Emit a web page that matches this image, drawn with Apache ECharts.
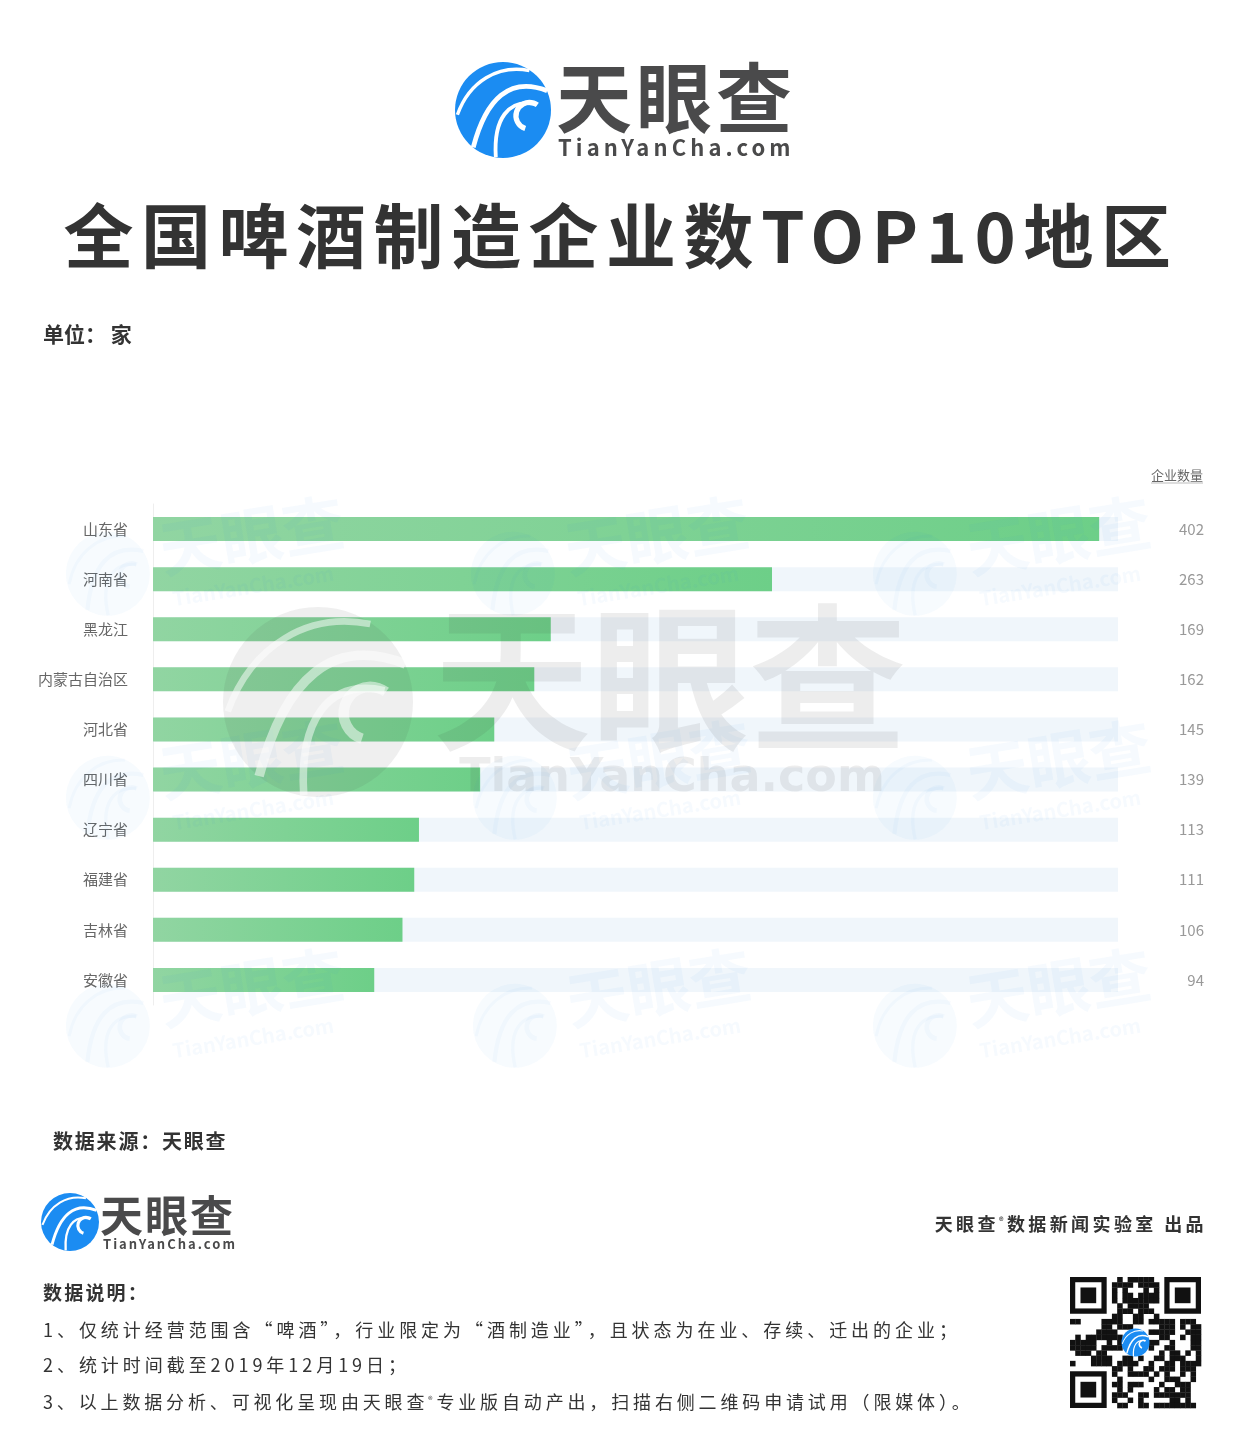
<!DOCTYPE html>
<html>
<head>
<meta charset="utf-8">
<script src="https://cdn.jsdelivr.net/npm/echarts@6/dist/echarts.min.js"></script>
<style>
  html, body { margin:0; padding:0; background:#fff; }
  body { width:1242px; height:1444px; position:relative; overflow:hidden;
         font-family:"Noto Sans CJK SC","Noto Sans",sans-serif; }
  #main { position:absolute; left:0; top:0; width:1242px; height:1444px; }
  .t { position:absolute; white-space:nowrap; color:#333; }
</style>
</head>
<body>
<div id="main"></div>
<div class="t" style="left:556px;top:51px;font-size:76px;line-height:86px;font-weight:700;color:#4a4a4b;letter-spacing:4px;">天眼查</div>
<div class="t" style="left:558px;top:132px;font-size:22px;line-height:28px;font-weight:700;color:#4a4a4b;letter-spacing:4.1px;">TianYanCha.com</div>
<div class="t" style="left:0;width:1242px;text-align:center;top:190px;font-size:70px;line-height:86px;font-weight:700;color:#333;letter-spacing:7.5px;">全国啤酒制造企业数TOP10地区</div>
<div class="t" style="left:43px;top:319px;font-size:21px;line-height:28px;font-weight:700;color:#333;">单位： 家</div>
<div class="t" style="left:53px;top:1127px;font-size:20px;line-height:28px;font-weight:700;color:#333;letter-spacing:1.8px;">数据来源：天眼查</div>
<div class="t" style="left:100px;top:1189px;font-size:43px;line-height:48px;font-weight:700;color:#4a4a4b;letter-spacing:2px;">天眼查</div>
<div class="t" style="left:103px;top:1235px;font-size:13px;line-height:18px;font-weight:700;color:#4a4a4b;letter-spacing:2px;">TianYanCha.com</div>
<div class="t" style="right:35px;top:1208px;font-size:18px;line-height:28px;font-weight:700;color:#333;letter-spacing:3.4px;">天眼查<sup style="font-size:9px;vertical-align:6px;">®</sup>数据新闻实验室 出品</div>
<div class="t" style="left:43px;top:1278px;font-size:19px;line-height:28px;font-weight:700;color:#333;letter-spacing:2.2px;">数据说明：</div>
<div class="t" style="left:43px;top:1315px;font-size:18px;line-height:28px;color:#333;letter-spacing:3.95px;">1、仅统计经营范围含“啤酒”，行业限定为“酒制造业”，且状态为在业、存续、迁出的企业；</div>
<div class="t" style="left:43px;top:1350px;font-size:18px;line-height:28px;color:#333;letter-spacing:3.95px;">2、统计时间截至2019年12月19日；</div>
<div class="t" style="left:43px;top:1386px;font-size:18px;line-height:28px;color:#333;letter-spacing:3.85px;">3、以上数据分析、可视化呈现由天眼查<sup style="font-size:9px;vertical-align:6px;">®</sup>专业版自动产出，扫描右侧二维码申请试用（限媒体）。</div>
<script>
// ---- data ----
var categories = ['山东省','河南省','黑龙江','内蒙古自治区','河北省','四川省','辽宁省','福建省','吉林省','安徽省'];
var values = [402, 263, 169, 162, 145, 139, 113, 111, 106, 94];
var valueLabels = values.map(function (v) { return String(v); });
var axisName = '企业数量';

var chart = echarts.init(document.getElementById('main'), null, { renderer: 'canvas' });

function icon(cx, cy, r, fill, stripe, z) {
  var lw = Math.max(1.5, r * 0.1);
  return [
    { type: 'circle', z: z, shape: { cx: cx, cy: cy, r: r }, style: { fill: fill } },
    { type: 'bezierCurve', z: z, shape: { x1: cx - 0.62 * r, y1: cy + 0.78 * r, cpx1: cx - 0.35 * r, cpy1: cy - 0.25 * r, cpx2: cx + 0.15 * r, cpy2: cy - 0.7 * r, x2: cx + 0.92 * r, y2: cy - 0.4 * r }, style: { stroke: stripe, lineWidth: lw, fill: null } },
    { type: 'bezierCurve', z: z, shape: { x1: cx - 0.15 * r, y1: cy + 0.98 * r, cpx1: cx - 0.2 * r, cpy1: cy + 0.2 * r, cpx2: cx + 0.1 * r, cpy2: cy - 0.25 * r, x2: cx + 0.7 * r, y2: cy - 0.12 * r }, style: { stroke: stripe, lineWidth: lw * 0.8, fill: null } },
    { type: 'bezierCurve', z: z, shape: { x1: cx - 0.95 * r, y1: cy + 0.1 * r, cpx1: cx - 0.7 * r, cpy1: cy - 0.6 * r, cpx2: cx - 0.1 * r, cpy2: cy - 0.95 * r, x2: cx + 0.55 * r, y2: cy - 0.82 * r }, style: { stroke: stripe, lineWidth: lw * 0.7, fill: null } },
    { type: 'arc', z: z, shape: { cx: cx + 0.55 * r, cy: cy + 0.12 * r, r: 0.28 * r, startAngle: Math.PI * 0.6, endAngle: Math.PI * 1.7 }, style: { stroke: stripe, lineWidth: lw * 1.1, fill: null } }
  ];
}

function smallMark(x, y) {
  var col = 'rgba(40,140,235,0.045)';
  return {
    type: 'group', x: x, y: y, rotation: 0.16, silent: true, z: 30,
    children: icon(-100, 10, 42, 'rgba(40,140,235,0.035)', 'rgba(40,140,235,0.03)', 30).concat([
      { type: 'text', z: 30, style: { x: -45, y: -5, text: '天眼查', font: 'bold 62px "Noto Sans CJK SC"', fill: col, textVerticalAlign: 'middle' } },
      { type: 'text', z: 30, style: { x: -40, y: 45, text: 'TianYanCha.com', font: 'bold 20px "Noto Sans CJK SC"', fill: col, textVerticalAlign: 'middle' } }
    ])
  };
}

// pseudo QR decoration
function qr(x0, y0, size) {
  var n = 25, m = size / n, els = [];
  els.push({ type: 'rect', shape: { x: x0 - 2, y: y0 - 2, width: size + 4, height: size + 4 }, style: { fill: '#fff' } });
  function finder(ix, iy) {
    els.push({ type: 'rect', shape: { x: x0 + ix * m, y: y0 + iy * m, width: 7 * m, height: 7 * m }, style: { fill: '#111' } });
    els.push({ type: 'rect', shape: { x: x0 + (ix + 1) * m, y: y0 + (iy + 1) * m, width: 5 * m, height: 5 * m }, style: { fill: '#fff' } });
    els.push({ type: 'rect', shape: { x: x0 + (ix + 2) * m, y: y0 + (iy + 2) * m, width: 3 * m, height: 3 * m }, style: { fill: '#111' } });
  }
  for (var i = 0; i < n; i++) {
    for (var j = 0; j < n; j++) {
      var inF = (i < 8 && j < 8) || (i > 16 && j < 8) || (i < 8 && j > 16);
      var inC = i >= 10 && i <= 14 && j >= 10 && j <= 14;
      if (inF || inC) continue;
      var h = ((i * 7919 + j * 104729 + i * j * 31) ^ (i * 13 + j * 17)) % 11;
      if (h < 6) els.push({ type: 'rect', shape: { x: x0 + i * m, y: y0 + j * m, width: m + 0.3, height: m + 0.3 }, style: { fill: '#111' } });
    }
  }
  finder(0, 0); finder(18, 0); finder(0, 18);
  els = els.concat(icon(x0 + size / 2, y0 + size / 2, 14, '#1b8cf2', '#fff', 0));
  return { type: 'group', children: els, silent: true };
}

var graphic = [];
graphic.push({ type: 'group', silent: true, children: icon(503, 110, 48, '#1b8cf2', '#ffffff', 0) });
graphic.push({ type: 'group', silent: true, children: icon(70, 1222, 29, '#1b8cf2', '#ffffff', 0) });
// watermarks
[[205, 548], [610, 548], [1012, 548], [205, 772], [612, 772], [1012, 772], [205, 1000], [612, 1000], [1012, 1000]].forEach(function (p) {
  graphic.push(smallMark(p[0], p[1]));
});
graphic.push({ type: 'group', silent: true, z: 40, children: icon(318, 702, 95, 'rgba(70,70,70,0.085)', 'rgba(255,255,255,0.5)', 40) });
graphic.push({ type: 'text', silent: true, z: 40, style: { x: 670, y: 678, text: '天眼查', font: 'bold 158px "Noto Sans CJK SC"', fill: 'rgba(60,60,60,0.09)', textAlign: 'center', textVerticalAlign: 'middle' } });
graphic.push({ type: 'text', silent: true, z: 40, style: { x: 672, y: 779, text: 'TianYanCha.com', font: 'bold 46px "DejaVu Sans"', fill: 'rgba(60,60,60,0.09)', textAlign: 'center', textVerticalAlign: 'middle' } });
// right axis name + underline
graphic.push({ type: 'text', silent: true, style: { x: 1203, y: 475, text: axisName, font: '13px "Noto Sans CJK SC"', fill: '#666', textAlign: 'right', textVerticalAlign: 'middle' } });
graphic.push({ type: 'line', silent: true, shape: { x1: 1151, y1: 483, x2: 1203, y2: 483 }, style: { stroke: '#bbb', lineWidth: 1 } });
graphic.push(qr(1070, 1277, 131));

var option = {
  backgroundColor: 'transparent',
  animation: false,
  grid: { left: 153, right: 124, top: 504, bottom: 439, containLabel: false },
  xAxis: { type: 'value', min: 0, max: 410, show: false },
  yAxis: [
    {
      type: 'category', inverse: true, data: categories,
      axisLine: { show: true, lineStyle: { color: '#eeeeee' } },
      axisTick: { show: false },
      axisLabel: { color: '#666', fontSize: 15, margin: 25, fontFamily: 'Noto Sans CJK SC' }
    },
    {
      type: 'category', inverse: true, position: 'right', data: valueLabels,
      axisLine: { show: false }, axisTick: { show: false },
      axisLabel: { color: '#999', fontSize: 15, margin: 86, align: 'right', fontFamily: 'Noto Sans CJK SC' }
    }
  ],
  series: [{
    type: 'bar', data: values, barWidth: 24,
    showBackground: true,
    backgroundStyle: { color: '#f0f6fb' },
    itemStyle: {
      color: new echarts.graphic.LinearGradient(0, 0, 1, 0, [
        { offset: 0, color: '#91d5a2' },
        { offset: 1, color: '#6dcf88' }
      ])
    }
  }],
  graphic: graphic
};
chart.setOption(option);
</script>
</body>
</html>
